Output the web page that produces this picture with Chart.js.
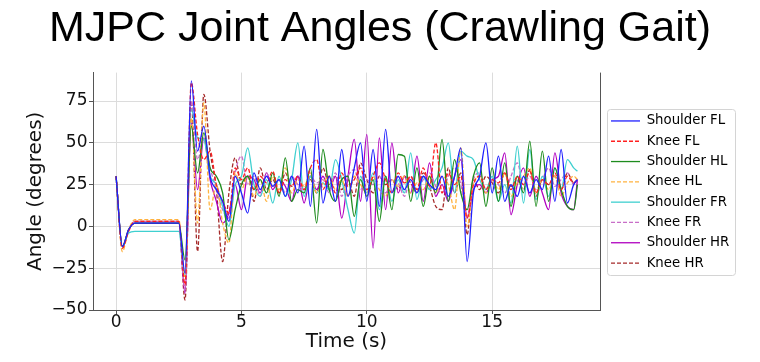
<!DOCTYPE html>
<html>
<head>
<meta charset="utf-8">
<title>MJPC Joint Angles</title>
<script src="https://cdn.jsdelivr.net/npm/chart.js@4.4.1/dist/chart.umd.min.js"></script>
<style>
  html, body { margin: 0; padding: 0; background: #fff; }
</style>
</head>
<body>
<canvas id="jointChart" width="760" height="362"></canvas>
<script>
// time stamps (s)
const times = [
  0, 0.25, 0.5, 0.75, 1, 1.25, 1.5, 1.75, 2, 2.25,
  2.5, 2.75, 3, 3.25, 3.5, 3.75, 4, 4.25, 4.5, 4.75,
  5, 5.25, 5.5, 5.75, 6, 6.25, 6.5, 6.75, 7, 7.25,
  7.5, 7.75, 8, 8.25, 8.5, 8.75, 9, 9.25, 9.5, 9.75,
  10, 10.25, 10.5, 10.75, 11, 11.25, 11.5, 11.75, 12, 12.25,
  12.5, 12.75, 13, 13.25, 13.5, 13.75, 14, 14.25, 14.5, 14.75,
  15, 15.25, 15.5, 15.75, 16, 16.25, 16.5, 16.75, 17, 17.25,
  17.5, 17.75, 18, 18.25, 18.4
];

// joint angles (degrees)
const shoulderFL = [
  30, -12, -2, 2, 2, 2, 2, 2, 2, 2,
  2, -28, 87, 45, 60, 30, 22, 15, 3, 30,
  20, 8, 32, 22, 30, 24, 28, 18, 30, 20,
  48, 12, 58, 14, 30, 15, 46, 18, 35, 50,
  15, 46, 12, 58, 20, 30, 22, 28, 20, 30,
  25, 22, 30, 18, 30, 47, -21, 20, 30, 50,
  20, 42, 15, 25, 18, 30, 20, 28, 22, 42,
  15, 46, 14, 25, 28
];
const kneeFL = [
  30, -13, -3, 3, 3, 3, 3, 3, 3, 3,
  3, -35, 86, 55, 40, 45, 25, 15, 8, 35,
  28, 35, 22, 30, 26, 33, 20, 28, 24, 30,
  22, 35, 40, 22, 30, 20, 32, 24, 28, 35,
  22, 30, 38, 28, 20, 32, 26, 30, 22, 35,
  24, 50, 20, 32, 25, 30, 5, 25, 30, 22,
  28, 26, 32, 22, 30, 25, 33, 20, 28, 25,
  32, 22, 30, 26, 28
];
const shoulderHL = [
  30, -12, -2, 2, 2, 2, 2, 2, 2, 2,
  2, -20, 60, 32, 56, 35, 30, 20, -8, 10,
  25, 30, 22, 28, 20, 32, 18, 41, 15, 22,
  20, 35, 2, 46, 22, 15, 28, 30, 6, 28,
  18, 28, 3, 30, 10, 43, 42, 15, 35, 12,
  30, 20, 52, 15, 40, 20, 10, 30, 38, 12,
  35, 15, 38, 12, 30, 20, 51, 12, 45, 15,
  35, 22, 12, 10, 25
];
const kneeHL = [
  30, -15, -2, 4, 4, 4, 4, 4, 4, 4,
  4, -30, 65, 2, 74, 10, 25, 2, -10, 32,
  22, 30, 18, 28, 15, 30, 22, 35, 20, 28,
  24, 32, 20, 26, 30, 22, 28, 18, 30, 25,
  20, 30, 22, 18, 28, 24, 30, 20, 26, 22,
  30, 20, 30, 25, 10, 47, 0, 25, 30, 20,
  28, 22, 32, 18, 26, 30, 35, 20, 28, 22,
  30, 18, 26, 30, 28
];
const shoulderFR = [
  30, -12, -4, -3, -3, -3, -3, -3, -3, -3,
  -3, -30, 70, 53, 52, 30, 25, 12, 0, 25,
  30, 47, 25, 18, 28, 14, 30, 18, 28, 50,
  18, 30, 20, 26, 22, 40, 28, 10, -4, 30,
  20, 32, 10, 30, 15, 28, 20, 44, 16, 30,
  22, 28, 35, 50, 20, 45, 42, 40, 28, 22,
  30, 15, 25, 14, 48, 14, 46, 16, 30, 18,
  35, 22, 40, 35, 33
];
const kneeFR = [
  30, -12, -2, 3, 3, 3, 3, 3, 3, 3,
  3, -38, 75, 40, 52, 35, 22, 10, 5, 32,
  42, 25, 30, 18, 32, 24, 28, 20, 30, 25,
  22, 30, 26, 28, 20, 32, 18, 30, 34, 22,
  28, 25, 30, 20, 28, 26, 18, 30, 22, 28,
  32, 24, 20, 30, 35, 25, 5, 28, 32, 22,
  28, 25, 20, 30, 38, 25, 30, 22, 28, 35,
  24, 28, 32, 25, 28
];
const shoulderHR = [
  30, -12, -2, 2, 2, 2, 2, 2, 2, 2,
  2, -40, 62, 22, 53, 28, 15, 2, 8, 25,
  10, 30, 28, 20, 32, 22, 28, 24, 15, 30,
  14, 30, 22, 30, 22, 30, 5, 30, 52, 15,
  55, -13, 53, 10, 50, 20, 30, 20, 42, 15,
  38, 18, 25, 15, 30, 40, 5, 22, 25, 20,
  28, 30, 44, 7, 25, 35, 18, 30, 20, 10,
  44, 20, 12, 10, 28
];
const kneeHR = [
  30, -13, -2, 3, 3, 3, 3, 3, 3, 3,
  3, -44, 75, -15, 79, 45, 22, -21, 20, 41,
  25, 30, 15, 35, 22, 28, 20, 32, 24, 30,
  22, 28, 20, 35, 25, 30, 22, 28, 18, 38,
  28, 20, 30, 25, 28, 22, 30, 26, 20, 32,
  24, 12, 10, 35, 20, 32, -5, 28, 22, 30,
  26, 20, 32, 24, 28, 22, 34, 18, 28, 25,
  30, 22, 32, 26, 28
];

const seriesNames = ['Shoulder FL', 'Knee FL', 'Shoulder HL', 'Knee HL',
                     'Shoulder FR', 'Knee FR', 'Shoulder HR', 'Knee HR'];
const seriesValues = [shoulderFL, kneeFL, shoulderHL, kneeHL,
                      shoulderFR, kneeFR, shoulderHR, kneeHR];
const seriesColors = ['#1f1fff', '#ff2020', '#1e8c1e', '#ffb340',
                      '#3fd0d0', '#c86ec8', '#b000c0', '#a52a2a'];
const yTicks = [-50, -25, 0, 25, 50, 75];
const xTicks = [0, 5, 10, 15];

Chart.defaults.font.family = "'DejaVu Sans', sans-serif";
Chart.defaults.color = '#000';

const datasets = seriesNames.map((name, i) => ({
    label: name,
    data: times.map((t, k) => ({ x: t, y: seriesValues[i][k] })),
    borderColor: seriesColors[i],
    backgroundColor: seriesColors[i],
    borderWidth: 1.3,
    borderDash: i % 2 === 1 ? [4, 2] : [], // knees are dashed
    pointRadius: 0,
    cubicInterpolationMode: 'monotone',
    fill: false
}));

// matplotlib-like frame: right spine + rounded box around the legend
const frame = {
    id: 'frame',
    afterInit(chart) {
        const lg = chart.legend;
        const fit = lg.fit;
        lg.fit = function () { fit.call(this); this.width = 160; };
    },
    afterLayout(chart) {
        const lg = chart.legend;
        lg.left += 4;
        lg.right += 4;
        lg.top += 11;
        lg.bottom += 11;
    },
    afterDraw(chart) {
        const ctx = chart.ctx;
        const area = chart.chartArea;
        ctx.save();
        ctx.strokeStyle = '#555';
        ctx.lineWidth = 1;
        ctx.beginPath();
        ctx.moveTo(area.right + 0.5, area.top);
        ctx.lineTo(area.right + 0.5, area.bottom);
        ctx.stroke();

        const boxes = chart.legend.legendHitBoxes;
        if (boxes && boxes.length) {
            const x0 = boxes[0].left - 4;
            const y0 = boxes[0].top - 5;
            const x1 = Math.max(...boxes.map(b => b.left + b.width)) + 6;
            const last = boxes[boxes.length - 1];
            const y1 = last.top + last.height + 6;
            ctx.strokeStyle = '#d4d4d4';
            ctx.beginPath();
            ctx.roundRect(Math.round(x0) + 0.5, Math.round(y0) + 0.5,
                          Math.round(x1 - x0), Math.round(y1 - y0), 3);
            ctx.stroke();
        }
        ctx.restore();
    }
};

new Chart(document.getElementById('jointChart'), {
    type: 'line',
    data: { datasets },
    plugins: [frame],
    options: {
        responsive: false,
        animation: false,
        layout: { padding: 0 },
        plugins: {
            title: {
                display: true,
                text: 'MJPC Joint Angles (Crawling Gait)',
                color: '#000',
                font: { family: "'Liberation Sans', Arial, sans-serif", size: 43, weight: 'normal' },
                padding: { top: 3, bottom: 18 }
            },
            legend: {
                position: 'right',
                align: 'center',
                labels: {
                    usePointStyle: true,
                    pointStyle: 'line',
                    pointStyleWidth: 29,
                    padding: 7,
                    color: '#000',
                    font: { size: 13.3 },
                    generateLabels(chart) {
                        const items = Chart.defaults.plugins.legend.labels.generateLabels(chart);
                        items.forEach(it => {
                            const ds = chart.data.datasets[it.datasetIndex];
                            it.lineDash = ds.borderDash;
                            it.strokeStyle = ds.borderColor;
                            it.lineWidth = ds.borderWidth;
                        });
                        return items;
                    }
                }
            },
            tooltip: { enabled: false }
        },
        scales: {
            x: {
                type: 'linear',
                min: -0.92,
                max: 19.3,
                afterFit(scale) { scale.height = 52; },
                afterBuildTicks(scale) { scale.ticks = xTicks.map(v => ({ value: v })); },
                ticks: { font: { size: 17 }, color: '#111', padding: -2 },
                grid: { color: '#dcdcdc', tickColor: '#555', tickLength: 4 },
                border: { color: '#555', width: 1 },
                title: {
                    display: true,
                    text: 'Time (s)',
                    font: { size: 20 },
                    color: '#111',
                    padding: { top: 0, bottom: 8 }
                }
            },
            y: {
                min: -50,
                max: 92,
                afterFit(scale) { scale.width = 93; },
                afterBuildTicks(scale) { scale.ticks = yTicks.map(v => ({ value: v })); },
                ticks: {
                    font: { size: 17 },
                    color: '#111',
                    padding: 1.5,
                    callback: v => String(v).replace('-', '\u2212')
                },
                grid: { color: '#dcdcdc', tickColor: '#555', tickLength: 4 },
                border: { color: '#555', width: 1 },
                title: {
                    display: true,
                    text: 'Angle (degrees)',
                    font: { size: 20 },
                    color: '#111',
                    padding: { top: 24, bottom: 0 }
                }
            }
        }
    }
});
</script>
</body>
</html>
